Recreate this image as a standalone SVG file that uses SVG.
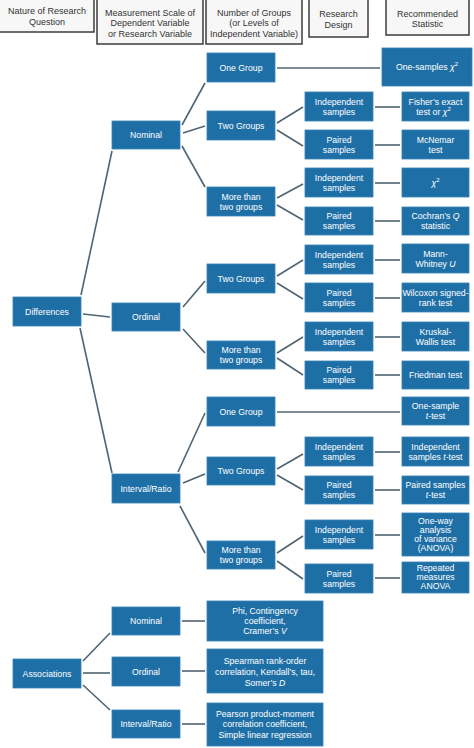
<svg xmlns="http://www.w3.org/2000/svg" width="474" height="748" viewBox="0 0 474 748">
<style>
.h rect{fill:#f7f7f7;stroke:#3c3c3c;stroke-width:1.5}
.h text{font-family:"Liberation Sans",Arial,sans-serif;font-size:9px;fill:#333;text-anchor:middle}
.n rect{fill:#1f6fa7;stroke:#3582b8;stroke-width:0.8}
.n text{font-family:"Liberation Sans",Arial,sans-serif;font-size:8.7px;fill:#fff;text-anchor:middle}
.i{font-style:italic}
#conn line{stroke:#4f6472;stroke-width:1.6}
</style>
<rect width="474" height="748" fill="#fff"/>
<g class="h">
<g id="h1"><rect x="-2" y="-2" width="96" height="34"/><text><tspan x="47" y="14">Nature of Research</tspan><tspan x="47" y="25">Question</tspan></text></g>
<g id="h2"><rect x="97" y="-2" width="106" height="46"/><text><tspan x="150" y="16">Measurement Scale of</tspan><tspan x="150" y="26">Dependent Variable</tspan><tspan x="150" y="36.5">or Research Variable</tspan></text></g>
<g id="h3"><rect x="206" y="-2" width="96" height="46"/><text><tspan x="254" y="16">Number of Groups</tspan><tspan x="254" y="26">(or Levels of</tspan><tspan x="254" y="36.5">Independent Variable)</tspan></text></g>
<g id="h4"><rect x="309" y="-2" width="59" height="39"/><text><tspan x="338.5" y="17">Research</tspan><tspan x="338.5" y="27.5">Design</tspan></text></g>
<g id="h5"><rect x="386" y="-2" width="83" height="37"/><text><tspan x="427.5" y="16.5">Recommended</tspan><tspan x="427.5" y="26.5">Statistic</tspan></text></g>
</g>
<g id="conn">
<line x1="81" y1="295" x2="112" y2="151"/>
<line x1="83" y1="314" x2="110" y2="317"/>
<line x1="80" y1="328" x2="112" y2="473"/>
<line x1="83" y1="661" x2="110" y2="633"/>
<line x1="83" y1="673" x2="110" y2="673"/>
<line x1="83" y1="685" x2="110" y2="710"/>
<line x1="182" y1="125" x2="205" y2="83"/>
<line x1="183" y1="133" x2="205" y2="126"/>
<line x1="182" y1="146" x2="205" y2="187"/>
<line x1="183" y1="307" x2="205" y2="281"/>
<line x1="183" y1="329" x2="205" y2="353"/>
<line x1="178" y1="472" x2="205" y2="413"/>
<line x1="183" y1="483" x2="205" y2="474"/>
<line x1="180" y1="506" x2="205" y2="553"/>
<line x1="182" y1="621" x2="205" y2="621"/>
<line x1="182" y1="671" x2="205" y2="671"/>
<line x1="182" y1="724" x2="205" y2="724"/>
<line x1="277" y1="68" x2="380" y2="68"/>
<line x1="277" y1="412" x2="400" y2="412"/>
<line x1="277" y1="123" x2="303" y2="107"/>
<line x1="277" y1="130" x2="303" y2="146"/>
<line x1="277" y1="198" x2="303" y2="184"/>
<line x1="277" y1="205" x2="303" y2="220"/>
<line x1="277" y1="276" x2="303" y2="260"/>
<line x1="277" y1="283" x2="303" y2="299"/>
<line x1="277" y1="353" x2="303" y2="337"/>
<line x1="277" y1="358" x2="303" y2="375"/>
<line x1="277" y1="469" x2="303" y2="454"/>
<line x1="277" y1="475" x2="303" y2="490"/>
<line x1="277" y1="553" x2="303" y2="536"/>
<line x1="277" y1="561" x2="303" y2="579"/>
<line x1="375" y1="107" x2="400" y2="107"/>
<line x1="375" y1="145" x2="400" y2="145"/>
<line x1="375" y1="183" x2="400" y2="183"/>
<line x1="375" y1="221" x2="400" y2="221"/>
<line x1="375" y1="260" x2="400" y2="260"/>
<line x1="375" y1="298" x2="400" y2="298"/>
<line x1="375" y1="337" x2="400" y2="337"/>
<line x1="375" y1="375" x2="400" y2="375"/>
<line x1="375" y1="452" x2="400" y2="452"/>
<line x1="375" y1="490" x2="400" y2="490"/>
<line x1="375" y1="535" x2="400" y2="535"/>
<line x1="375" y1="578" x2="400" y2="578"/>
</g>
<g class="n">
<g id="differences"><rect x="13" y="297" width="68" height="29"/><text x="47" y="314.5">Differences</text></g>
<g id="associations"><rect x="13" y="659" width="68" height="29"/><text x="47" y="676.5">Associations</text></g>

<g id="d-nominal"><rect x="112" y="121" width="68" height="28"/><text x="146" y="138">Nominal</text></g>
<g id="d-ordinal"><rect x="112" y="303" width="68" height="28"/><text x="146" y="320">Ordinal</text></g>
<g id="d-interval"><rect x="112" y="474" width="68" height="29"/><text x="146" y="491.5">Interval/Ratio</text></g>
<g id="a-nominal"><rect x="112" y="607" width="68" height="28"/><text x="146" y="624">Nominal</text></g>
<g id="a-ordinal"><rect x="112" y="657" width="68" height="29"/><text x="146" y="674.5">Ordinal</text></g>
<g id="a-interval"><rect x="112" y="710" width="68" height="28"/><text x="146" y="727">Interval/Ratio</text></g>

<g id="nom-one"><rect x="207" y="53" width="68" height="29"/><text x="241" y="70.5">One Group</text></g>
<g id="nom-two"><rect x="207" y="111" width="68" height="29"/><text x="241" y="128.5">Two Groups</text></g>
<g id="nom-more"><rect x="207" y="187" width="68" height="29"/><text><tspan x="241" y="199.5">More than</tspan><tspan x="241" y="209.5">two groups</tspan></text></g>
<g id="ord-two"><rect x="207" y="264" width="68" height="29"/><text x="241" y="281.5">Two Groups</text></g>
<g id="ord-more"><rect x="207" y="341" width="68" height="28"/><text><tspan x="241" y="353">More than</tspan><tspan x="241" y="363">two groups</tspan></text></g>
<g id="int-one"><rect x="207" y="397" width="68" height="29"/><text x="241" y="414.5">One Group</text></g>
<g id="int-two"><rect x="207" y="457" width="68" height="28"/><text x="241" y="474">Two Groups</text></g>
<g id="int-more"><rect x="207" y="541" width="68" height="28"/><text><tspan x="241" y="553">More than</tspan><tspan x="241" y="563">two groups</tspan></text></g>

<g id="phi"><rect x="207" y="601" width="116" height="40"/><text><tspan x="265" y="613.7">Phi, Contingency</tspan><tspan x="265" y="623.7">coefficient,</tspan><tspan x="265" y="633.7">Cramer’s <tspan class="i">V</tspan></tspan></text></g>
<g id="spearman"><rect x="207" y="649" width="116" height="44"/><text><tspan x="265" y="664">Spearman rank-order</tspan><tspan x="265" y="674.7">correlation, Kendall’s, tau,</tspan><tspan x="265" y="685.7">Somer’s <tspan class="i">D</tspan></tspan></text></g>
<g id="pearson"><rect x="207" y="703" width="116" height="43"/><text><tspan x="265" y="717">Pearson product-moment</tspan><tspan x="265" y="727.3">correlation coefficient,</tspan><tspan x="265" y="738">Simple linear regression</tspan></text></g>

<g id="s1"><rect x="305" y="92" width="68" height="29"/><text><tspan x="339" y="104.5">Independent</tspan><tspan x="339" y="114.5">samples</tspan></text></g>
<g id="s2"><rect x="305" y="130" width="68" height="29"/><text><tspan x="339" y="142.5">Paired</tspan><tspan x="339" y="152.5">samples</tspan></text></g>
<g id="s3"><rect x="305" y="168" width="68" height="29"/><text><tspan x="339" y="180.5">Independent</tspan><tspan x="339" y="190.5">samples</tspan></text></g>
<g id="s4"><rect x="305" y="207" width="68" height="28"/><text><tspan x="339" y="219">Paired</tspan><tspan x="339" y="229">samples</tspan></text></g>
<g id="s5"><rect x="305" y="245" width="68" height="29"/><text><tspan x="339" y="257.5">Independent</tspan><tspan x="339" y="267.5">samples</tspan></text></g>
<g id="s6"><rect x="305" y="283" width="68" height="29"/><text><tspan x="339" y="295.5">Paired</tspan><tspan x="339" y="305.5">samples</tspan></text></g>
<g id="s7"><rect x="305" y="322" width="68" height="29"/><text><tspan x="339" y="334.5">Independent</tspan><tspan x="339" y="344.5">samples</tspan></text></g>
<g id="s8"><rect x="305" y="361" width="68" height="28"/><text><tspan x="339" y="373">Paired</tspan><tspan x="339" y="383">samples</tspan></text></g>
<g id="s9"><rect x="305" y="437" width="68" height="29"/><text><tspan x="339" y="449.5">Independent</tspan><tspan x="339" y="459.5">samples</tspan></text></g>
<g id="s10"><rect x="305" y="476" width="68" height="28"/><text><tspan x="339" y="488">Paired</tspan><tspan x="339" y="498">samples</tspan></text></g>
<g id="s11"><rect x="305" y="520" width="68" height="29"/><text><tspan x="339" y="532.5">Independent</tspan><tspan x="339" y="542.5">samples</tspan></text></g>
<g id="s12"><rect x="305" y="564" width="68" height="29"/><text><tspan x="339" y="576.5">Paired</tspan><tspan x="339" y="586.5">samples</tspan></text></g>

<g id="r-chi1"><rect x="382" y="48" width="90" height="38"/><text x="427" y="70">One-samples <tspan class="i">χ</tspan><tspan font-size="6" dy="-4">2</tspan></text></g>
<g id="r-fisher"><rect x="402" y="92" width="67" height="29"/><text><tspan x="435.5" y="104.5">Fisher’s exact</tspan><tspan x="433.5" y="114.5">test or <tspan class="i">χ</tspan><tspan font-size="6" dy="-4">2</tspan></tspan></text></g>
<g id="r-mcnemar"><rect x="402" y="130" width="67" height="29"/><text><tspan x="435.5" y="142.5">McNemar</tspan><tspan x="435.5" y="152.5">test</tspan></text></g>
<g id="r-chi2"><rect x="402" y="168" width="67" height="29"/><text x="435.5" y="186"><tspan class="i">χ</tspan><tspan font-size="6" dy="-4">2</tspan></text></g>
<g id="r-cochran"><rect x="402" y="207" width="67" height="28"/><text><tspan x="435.5" y="219">Cochran’s <tspan class="i">Q</tspan></tspan><tspan x="435.5" y="229">statistic</tspan></text></g>
<g id="r-mann"><rect x="402" y="244" width="67" height="29"/><text><tspan x="435.5" y="256.5">Mann-</tspan><tspan x="435.5" y="266.5">Whitney <tspan class="i">U</tspan></tspan></text></g>
<g id="r-wilcoxon"><rect x="402" y="283" width="67" height="29"/><text><tspan x="435.5" y="295.5">Wilcoxon signed-</tspan><tspan x="435.5" y="305.5">rank test</tspan></text></g>
<g id="r-kruskal"><rect x="402" y="322" width="67" height="29"/><text><tspan x="435.5" y="334.5">Kruskal-</tspan><tspan x="435.5" y="344.5">Wallis test</tspan></text></g>
<g id="r-friedman"><rect x="402" y="361" width="67" height="28"/><text x="435.5" y="378">Friedman test</text></g>
<g id="r-onet"><rect x="402" y="397" width="67" height="28"/><text><tspan x="435.5" y="409">One-sample</tspan><tspan x="435.5" y="419"><tspan class="i">t</tspan>-test</tspan></text></g>
<g id="r-indt"><rect x="402" y="437" width="67" height="29"/><text><tspan x="435.5" y="449.5">Independent</tspan><tspan x="435.5" y="459.5">samples <tspan class="i">t</tspan>-test</tspan></text></g>
<g id="r-pairt"><rect x="402" y="476" width="67" height="28"/><text><tspan x="435.5" y="488">Paired samples</tspan><tspan x="435.5" y="498"><tspan class="i">t</tspan>-test</tspan></text></g>
<g id="r-anova"><rect x="402" y="513" width="67" height="43"/><text><tspan x="435.5" y="524">One-way</tspan><tspan x="435.5" y="533">analysis</tspan><tspan x="435.5" y="542">of variance</tspan><tspan x="435.5" y="551">(ANOVA)</tspan></text></g>
<g id="r-rm"><rect x="402" y="562" width="67" height="31"/><text><tspan x="435.5" y="571">Repeated</tspan><tspan x="435.5" y="580">measures</tspan><tspan x="435.5" y="589">ANOVA</tspan></text></g>
</g>
</svg>
